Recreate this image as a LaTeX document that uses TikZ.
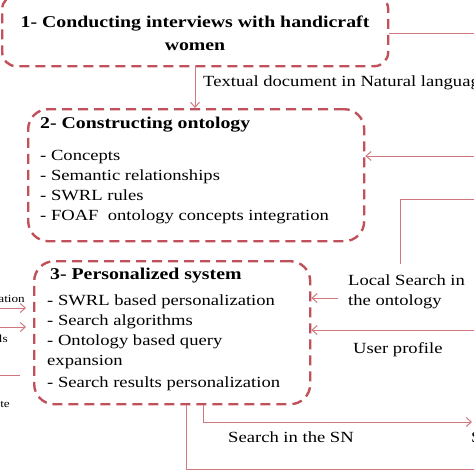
\documentclass[tikz,border=0pt]{standalone}
\usepackage{fontspec}
\setmainfont{Liberation Serif}[FakeStretch=1.2]
\usetikzlibrary{arrows.meta}
\definecolor{boxred}{RGB}{192,80,90}
\definecolor{linered}{RGB}{208,120,125}
\tikzset{
  box/.style={draw=boxred, line width=2.4pt, dash pattern=on 10pt off 6pt, rounded corners=14pt, anchor=north west, inner sep=0pt},
  conn/.style={draw=linered, line width=1pt},
  arr/.style={conn, -{Straight Barb[length=5pt,width=9pt,line width=1pt]}},
  ttl/.style={anchor=base west, inner sep=0pt, font=\fontsize{16.5}{20}\selectfont\bfseries},
  itm/.style={anchor=base west, inner sep=0pt, font=\fontsize{15.5}{20}\selectfont},
  lbl/.style={anchor=base west, inner sep=0pt, font=\fontsize{15.5}{20}\selectfont},
  sml/.style={anchor=base east, inner sep=0pt, font=\fontsize{11}{13}\selectfont},
}
\begin{document}
\begin{tikzpicture}[x=1pt,y=-1pt]
\useasboundingbox (0,0) rectangle (474,474);
\clip (0,0) rectangle (474,474);
% boxes
\node[box, minimum width=386pt, minimum height=71pt] (b1) at (1,-6) {};
\node[box, minimum width=336pt, minimum height=132pt, rounded corners=20pt] (b2) at (27,108) {};
\node[box, minimum width=276pt, minimum height=143pt, rounded corners=20pt] (b3) at (33,260) {};
% box 1 text
\node[ttl, anchor=base] (t1a) at (195,27) {1- Conducting interviews with handicraft};
\node[ttl, anchor=base] (t1b) at (195,50) {women};
% box 2 text
\node[ttl] (t2) at (40,128) {2- Constructing ontology};
\node[itm] (i21) at (40,160) {- Concepts};
\node[itm] (i22) at (40,180) {- Semantic relationships};
\node[itm] (i23) at (40,200) {- SWRL rules};
\node[itm] (i24) at (40,220) {- FOAF\ \ ontology concepts integration};
% box 3 text
\node[ttl] (t3) at (50,279) {3- Personalized system};
\node[itm] (i31) at (47,305) {- SWRL based personalization};
\node[itm] (i32) at (47,325) {- Search algorithms};
\node[itm] (i33) at (47,345) {- Ontology based query};
\node[itm] (i34) at (47,365) {expansion};
\node[itm] (i35) at (47,387) {- Search results personalization};
% labels
\node[lbl] (l1) at (203,86) {Textual document in Natural language};
\node[lbl] (l2) at (348,285) {Local Search in};
\node[lbl] (l3) at (348,305) {the ontology};
\node[lbl] (l4) at (353,353) {User profile};
\node[lbl] (l5) at (228,442) {Search in the SN};
\node[lbl] (l6) at (471,442) {SN};
\node[sml] (s1) at (25,302) {ation};
\node[sml] (s2) at (8,342) {ls};
\node[sml] (s3) at (10,407) {te};
% coordinates
\coordinate (c1) at (195,0);
\coordinate (r1) at (474,33);
\coordinate (r2) at (474,156);
\coordinate (r3) at (474,199);
\coordinate (v3) at (400,199);
\coordinate (v3b) at (400,264);
\coordinate (r4) at (338,298);
\coordinate (r5) at (474,330);
\coordinate (d1) at (203,422);
\coordinate (r6) at (474,422);
\coordinate (d2) at (186,469);
\coordinate (r7) at (474,469);
\coordinate (w1) at (0,308);
\coordinate (w2) at (0,327);
\coordinate (w3) at (0,375);
\coordinate (w3b) at (20,375);
% connectors
\draw[arr] (b1.south -| c1) -- (b2.north -| c1);
\draw[conn] (b1.east |- r1) -- (r1);
\draw[arr] (r2) -- (b2.east |- r2);
\draw[conn] (r3) -- (v3) -- (v3b);
\draw[arr] (r4) -- (b3.east |- r4);
\draw[arr] (r5) -- (b3.east |- r5);
\draw[arr] (b3.south -| d1) -- (d1) -- ([xshift=-2pt]r6);
\draw[conn] (b3.south -| d2) -- (d2) -- (r7);
\draw[arr, shorten >=7pt] (w1) -- (b3.west |- w1);
\draw[arr, shorten >=7pt] (w2) -- (b3.west |- w2);
\draw[conn] (w3) -- (w3b);
\end{tikzpicture}
\end{document}
